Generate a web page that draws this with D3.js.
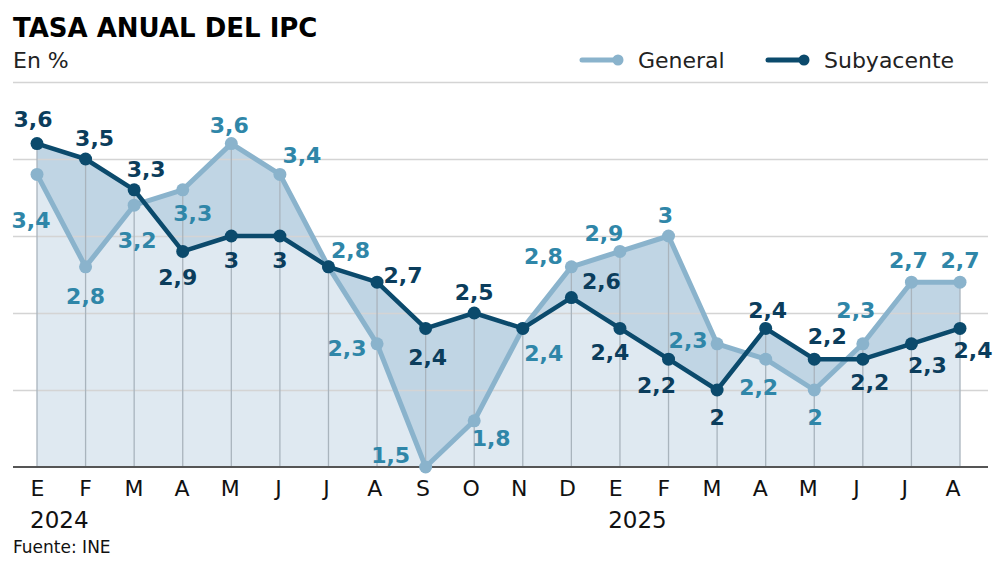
<!DOCTYPE html>
<html>
<head>
<meta charset="utf-8">
<script src="https://cdn.jsdelivr.net/npm/d3@7"></script>
<style>
  body { margin: 0; background: #fff; }
  svg { font-family: "DejaVu Sans", sans-serif; }
  .axisGrid line { stroke: #d4d4d4; stroke-width: 1.5; }
  .xAxis text { font-size: 22px; fill: #111; font-family: "DejaVu Sans", sans-serif; }
  .valueLabel { font-size: 22px; font-weight: 700; text-anchor: middle; }
</style>
</head>
<body>
<div id="chart"></div>
<script>
{
    // data
    let months = ["E", "F", "M", "A", "M", "J", "J", "A", "S", "O", "N", "D",
                  "E", "F", "M", "A", "M", "J", "J", "A"];
    let years = [{ index: 0, label: "2024" }, { index: 12, label: "2025" }];
    let general =    [3.4, 2.8, 3.2, 3.3, 3.6, 3.4, 2.8, 2.3, 1.5, 1.8, 2.4, 2.8,
                      2.9, 3.0, 2.3, 2.2, 2.0, 2.3, 2.7, 2.7];
    let subyacente = [3.6, 3.5, 3.3, 2.9, 3.0, 3.0, 2.8, 2.7, 2.4, 2.5, 2.4, 2.6,
                      2.4, 2.2, 2.0, 2.4, 2.2, 2.2, 2.3, 2.4];
    let yTicks = [1.5, 2, 2.5, 3, 3.5, 4];

    // label offsets (dx, dy) from each point, null = no label
    let generalLabelPos = [[-6,46],[0,29],[3,35],[10,23],[-2,-19],[22,-19],[22,-17],[-30,4],
        [-35,-12],[17,17],[21,25],[-28,-11],[-16,-18],[-3,-21],[-29,-4],[-7,28],[1,27],
        [-7,-34],[-3,-22],[0,-22]];
    let subLabelPos = [[-4,-25],[9,-21],[12,-21],[-5,26],[0,24],[0,24],null,[26,-7],[2,29],
        [0,-21],null,[30,-17],[-10,24],[-12,26],[0,27],[2,-18],[13,-23],[7,23],[16,21],[13,22]];

    let colGeneral = "#8ab3cc", colGeneralText = "#2f86a8";
    let colSub = "#0b4a6c", colSubText = "#0b3d5c";

    let width = 1000, height = 567;
    let left = 13, right = 988;

    let svg = d3.select("#chart")
        .append("svg")
        .attr("width", width)
        .attr("height", height);

    let x = d3.scalePoint()
        .domain(d3.range(months.length))
        .range([37, 960]);

    let y = d3.scaleLinear()
        .domain([1.5, 4])
        .range([467, 82]);

    let rows = months.map(function(m, i) {
        return { i: i, g: general[i], s: subyacente[i] };
    });

    // title block
    svg.append("text")
        .attr("x", left).attr("y", 37)
        .style("font-size", "26px").style("font-weight", 700)
        .text("TASA ANUAL DEL IPC");
    svg.append("text")
        .attr("x", left).attr("y", 68)
        .style("font-size", "22px").style("fill", "#222")
        .text("En %");

    // legend
    let legend = [
        { label: "General", color: colGeneral, x: 582 },
        { label: "Subyacente", color: colSub, x: 768 }
    ];
    let lg = svg.append("g").selectAll("g").data(legend).join("g")
        .attr("transform", d => `translate(${d.x}, 60)`);
    lg.append("line").attr("x1", 0).attr("x2", 36)
        .attr("stroke", d => d.color).attr("stroke-width", 5).attr("stroke-linecap", "round");
    lg.append("circle").attr("cx", 36).attr("r", 5.5).attr("fill", d => d.color);
    lg.append("text").attr("x", 56).attr("y", 8)
        .style("font-size", "22px").style("fill", "#222")
        .text(d => d.label);

    // fills: light under both lines, darker between them
    let areaG = d3.area().x(d => x(d.i)).y0(y(1.5)).y1(d => y(d.g));
    let areaS = d3.area().x(d => x(d.i)).y0(y(1.5)).y1(d => y(d.s));
    let areaBetween = d3.area().x(d => x(d.i)).y0(d => y(d.g)).y1(d => y(d.s));

    svg.append("path").datum(rows).attr("d", areaG).attr("fill", "#dfe9f1");
    svg.append("path").datum(rows).attr("d", areaS).attr("fill", "#dfe9f1");
    svg.append("path").datum(rows).attr("d", areaBetween).attr("fill", "#c0d5e4");

    // horizontal grid
    svg.append("g")
        .attr("class", "axisGrid")
        .attr("transform", `translate(${right}, 0)`)
        .call(d3.axisLeft(y).tickValues(yTicks.slice(1)).tickSize(right - left).tickFormat(""))
        .call(g => g.select(".domain").remove());

    // vertical lines up to the higher value
    svg.append("g").selectAll("line")
        .data(rows)
        .join("line")
        .attr("x1", d => x(d.i)).attr("x2", d => x(d.i))
        .attr("y1", y(1.5))
        .attr("y2", d => y(Math.max(d.g, d.s)))
        .attr("stroke", "#a9b4bd")
        .attr("stroke-width", 1.3);

    // baseline
    svg.append("line")
        .attr("x1", left).attr("x2", right)
        .attr("y1", y(yTicks[0])).attr("y2", y(yTicks[0]))
        .attr("stroke", "#555").attr("stroke-width", 2);

    // x axis
    svg.append("g")
        .attr("class", "xAxis")
        .attr("transform", `translate(0, ${y(1.5) + 13})`)
        .call(d3.axisBottom(x).tickSize(0).tickPadding(0).tickFormat(i => months[i]))
        .call(g => g.select(".domain").remove())
        .call(g => g.selectAll("text").attr("dy", "0.71em").attr("dx", (d, k) => -k * 0.4));

    svg.append("g").selectAll("text")
        .data(years)
        .join("text")
        .attr("x", d => x(d.index) - 7 - d.index * 0.4)
        .attr("y", 528)
        .style("font-size", "23px").style("fill", "#111")
        .text(d => d.label);

    // lines
    let lineG = d3.line().x(d => x(d.i)).y(d => y(d.g));
    let lineS = d3.line().x(d => x(d.i)).y(d => y(d.s));

    svg.append("path").datum(rows).attr("d", lineG)
        .attr("fill", "none").attr("stroke", colGeneral)
        .attr("stroke-width", 5).attr("stroke-linejoin", "round");
    svg.selectAll(".dotG").data(rows).join("circle")
        .attr("class", "dotG")
        .attr("cx", d => x(d.i)).attr("cy", d => y(d.g))
        .attr("r", 6.5).attr("fill", colGeneral);

    svg.append("path").datum(rows).attr("d", lineS)
        .attr("fill", "none").attr("stroke", colSub)
        .attr("stroke-width", 4.5).attr("stroke-linejoin", "round");
    svg.selectAll(".dotS").data(rows).join("circle")
        .attr("class", "dotS")
        .attr("cx", d => x(d.i)).attr("cy", d => y(d.s))
        .attr("r", 6.5).attr("fill", colSub);

    // value labels
    let fmt = v => String(v).replace(".", ",");

    svg.append("g").selectAll("text")
        .data(rows.filter(d => generalLabelPos[d.i]))
        .join("text")
        .attr("class", "valueLabel")
        .attr("x", d => x(d.i) + generalLabelPos[d.i][0])
        .attr("y", d => y(d.g) + generalLabelPos[d.i][1])
        .attr("dy", "0.36em")
        .style("fill", colGeneralText)
        .text(d => fmt(d.g));

    svg.append("g").selectAll("text")
        .data(rows.filter(d => subLabelPos[d.i]))
        .join("text")
        .attr("class", "valueLabel")
        .attr("x", d => x(d.i) + subLabelPos[d.i][0])
        .attr("y", d => y(d.s) + subLabelPos[d.i][1])
        .attr("dy", "0.36em")
        .style("fill", colSubText)
        .text(d => fmt(d.s));

    // source
    svg.append("text")
        .attr("x", left).attr("y", 553)
        .style("font-size", "17px").style("fill", "#111")
        .text("Fuente: INE");
}
</script>
</body>
</html>
